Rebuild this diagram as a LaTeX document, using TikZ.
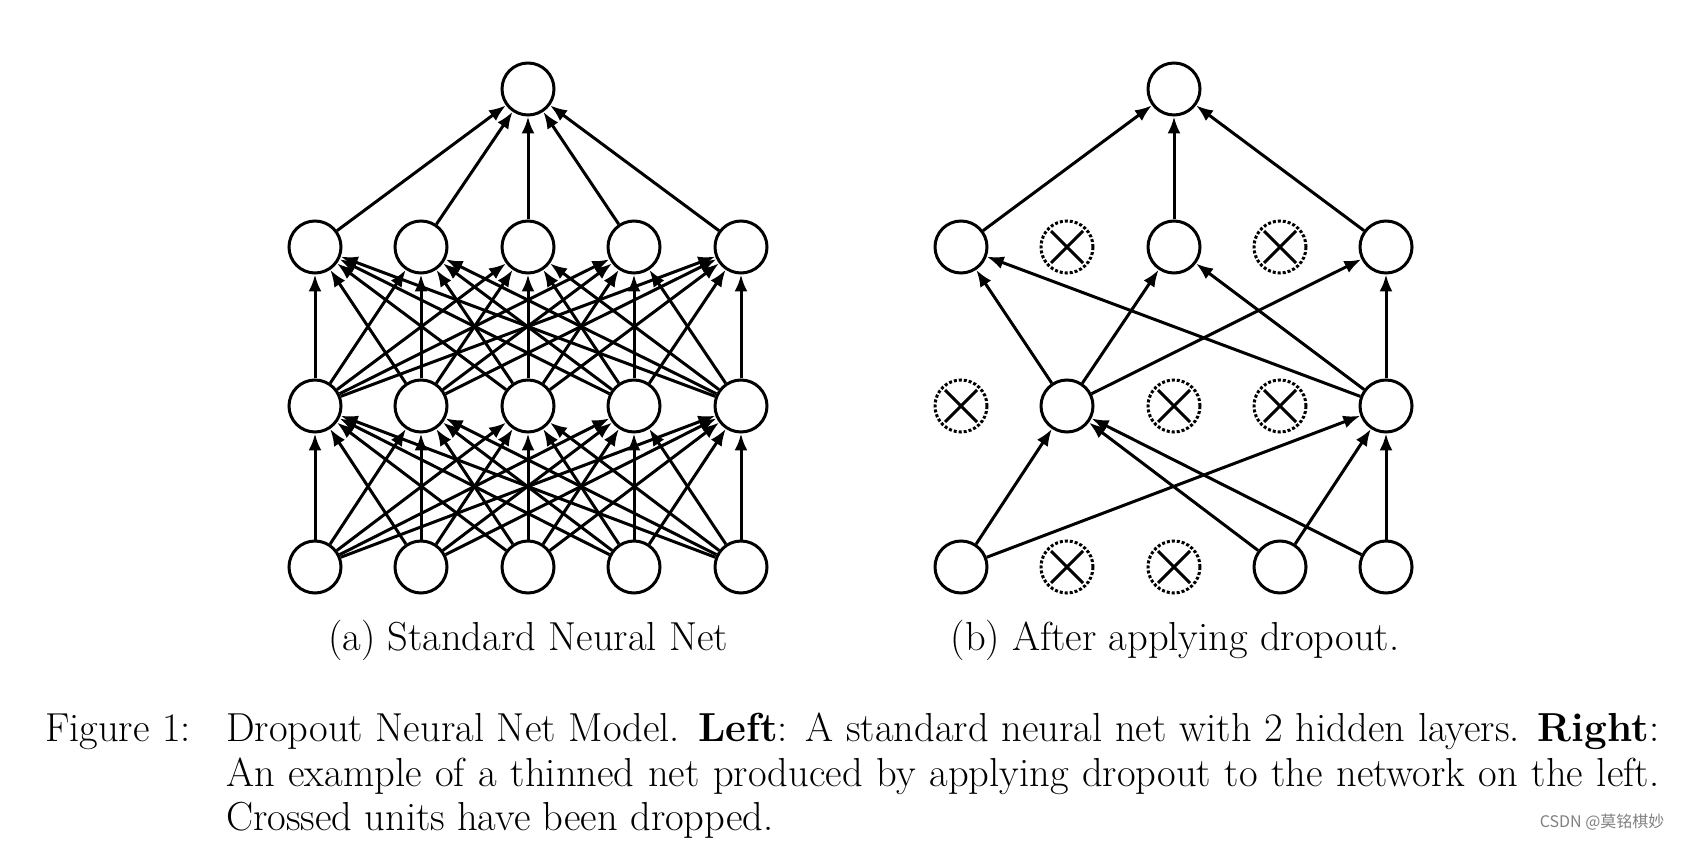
\documentclass[tikz,border=0pt]{standalone}
\usepackage{fontspec}
\newfontfamily\cjk{Noto Sans CJK SC}
\usetikzlibrary{arrows.meta}
\begin{document}
\begin{tikzpicture}[x=1pt,y=1pt,
  unit/.style={circle,draw,line width=3pt,minimum size=52pt,inner sep=0pt},
  drop/.style={circle,draw,line width=3pt,dotted,minimum size=52pt,inner sep=0pt,
    path picture={\draw[line width=3pt,solid] (path picture bounding box.south west)++(10pt,10pt) -- ++(32pt,32pt)
      (path picture bounding box.north west)++(10pt,-10pt) -- ++(32pt,-32pt);}},
  conn/.style={line width=3pt,-{Latex[length=17pt,width=13pt]}},
  txt/.style={font=\fontsize{40.5}{44.5}\selectfont}]
\useasboundingbox (0,0) rectangle (1683,844);
% left network
\foreach \i/\x in {0/315,1/421,2/528,3/634,4/741}{
  \node[unit] (li\i) at (\x,277) {};
  \node[unit] (la\i) at (\x,438) {};
  \node[unit] (lb\i) at (\x,597) {};
}
\node[unit] (lo) at (528,755) {};
\foreach \i in {0,...,4}{\foreach \j in {0,...,4}{
  \draw[conn] (li\i) -- (la\j);
  \draw[conn] (la\i) -- (lb\j);}
  \draw[conn] (lb\i) -- (lo);}
% right network
\node[unit] (ri0) at (961,277) {};
\node[drop] (ri1) at (1067,277) {};
\node[drop] (ri2) at (1174,277) {};
\node[unit] (ri3) at (1280,277) {};
\node[unit] (ri4) at (1386,277) {};
\node[drop] (ra0) at (961,438) {};
\node[unit] (ra1) at (1067,438) {};
\node[drop] (ra2) at (1174,438) {};
\node[drop] (ra3) at (1280,438) {};
\node[unit] (ra4) at (1386,438) {};
\node[unit] (rb0) at (961,597) {};
\node[drop] (rb1) at (1067,597) {};
\node[unit] (rb2) at (1174,597) {};
\node[drop] (rb3) at (1280,597) {};
\node[unit] (rb4) at (1386,597) {};
\node[unit] (ro) at (1174,755) {};
\foreach \i in {0,3,4}{\foreach \j in {1,4}{\draw[conn] (ri\i) -- (ra\j);}}
\foreach \i in {1,4}{\foreach \j in {0,2,4}{\draw[conn] (ra\i) -- (rb\j);}}
\foreach \i in {0,2,4}{\draw[conn] (rb\i) -- (ro);}
% captions
\node[txt] (ca) at (528,204) {(a) Standard Neural Net};
\node[txt] (cb) at (1175,204) {(b) After applying dropout.};
\node[txt,anchor=base west,inner sep=0pt] (fig) at (45,103) {Figure 1:};
\node[txt,anchor=north west,inner sep=0pt,text width=1433pt,align=justify] (cap) at (226,131)
 {Dropout Neural Net Model. \textbf{Left}: A standard neural net with 2 hidden layers. \textbf{Right}: An example of a thinned net produced by applying dropout to the network on the left. Crossed units have been dropped.};
\node[font=\cjk\fontsize{16}{18}\selectfont,text=gray,anchor=east] (wm) at (1668,22) {CSDN @莫铭棋妙};
\end{tikzpicture}
\end{document}
